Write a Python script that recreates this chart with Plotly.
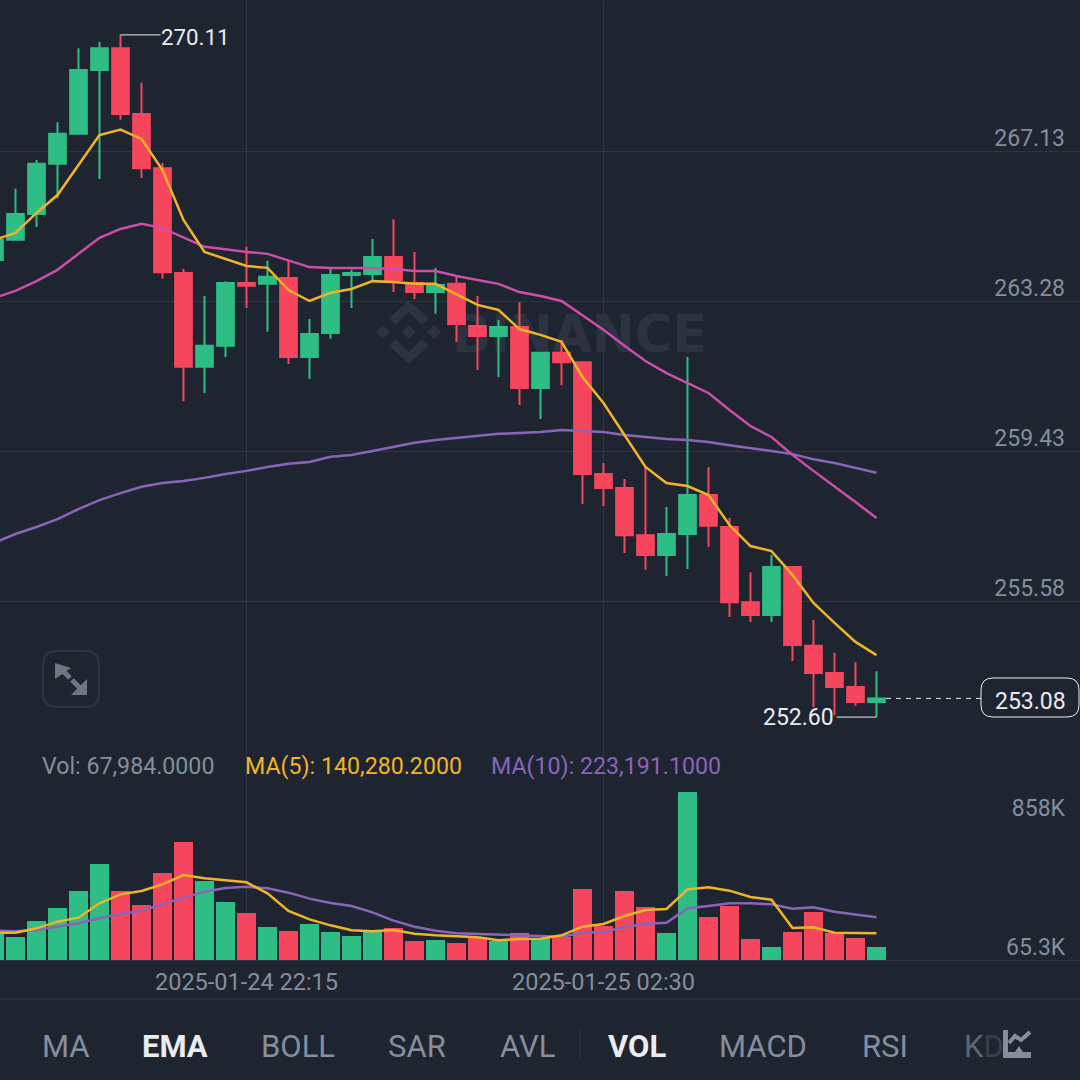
import pandas as pd
import plotly.graph_objs as go

# 15 minute candles
start_time = "2025-01-24 19:15"

opens = [264.33, 264.85, 265.51, 266.80, 267.57, 269.21, 269.77, 268.08, 266.69, 264.00, 261.59,
         262.13, 263.74, 263.72, 263.87, 261.84, 262.46, 263.95, 263.97, 264.41, 263.74, 263.51,
         263.72, 262.64, 262.38, 262.61, 261.05, 261.95, 261.71, 258.84, 258.48, 257.27, 256.76,
         257.30, 258.30, 257.48, 255.55, 255.22, 256.45, 254.43, 253.73, 253.37, 252.99]
closes = [264.85, 265.51, 266.80, 267.57, 269.21, 269.77, 268.08, 266.69, 264.02, 261.59, 262.13,
          263.74, 263.67, 263.90, 261.84, 262.43, 263.95, 264.00, 264.41, 263.82, 263.51, 263.69,
          262.69, 262.38, 262.61, 261.05, 261.95, 261.71, 258.84, 258.48, 257.27, 256.76, 257.30,
          258.30, 257.51, 255.55, 255.22, 256.45, 254.45, 253.73, 253.37, 252.99, 253.08]
highs = [264.97, 266.16, 266.90, 267.87, 269.77, 269.93, 270.11, 268.88, 266.82, 264.10, 263.41,
         263.79, 264.67, 264.31, 264.33, 262.82, 264.10, 264.08, 264.87, 265.38, 264.54, 264.13,
         263.90, 263.41, 262.79, 263.25, 261.97, 262.28, 261.71, 259.12, 258.71, 259.02, 257.99,
         261.84, 259.02, 257.71, 256.32, 256.76, 256.45, 255.09, 254.25, 254.01, 253.78]
lows = [264.28, 264.85, 265.18, 265.92, 267.57, 266.41, 267.93, 266.44, 263.85, 260.71, 260.92,
        261.84, 263.10, 262.49, 261.66, 261.28, 262.31, 263.10, 263.79, 263.51, 263.33, 262.95,
        262.23, 261.51, 261.33, 260.61, 260.25, 261.12, 258.07, 258.02, 256.81, 256.38, 256.22,
        256.40, 256.97, 255.17, 255.04, 255.04, 254.04, 252.86, 252.65, 252.89, 252.60]

ema_short = [264.85, 265.03, 265.54, 266.00, 266.77, 267.54, 267.68, 267.44, 266.64, 265.36, 264.54,
             264.36, 264.18, 264.13, 263.56, 263.28, 263.49, 263.59, 263.79, 263.77, 263.72, 263.72,
             263.46, 263.18, 263.05, 262.56, 262.41, 262.23, 261.33, 260.66, 259.84, 259.02, 258.61,
             258.53, 258.30, 257.53, 256.99, 256.86, 256.25, 255.53, 255.02, 254.53, 254.19]
ema_mid = [263.36, 263.54, 263.79, 264.08, 264.49, 264.90, 265.13, 265.26, 265.15, 264.90, 264.67,
           264.61, 264.54, 264.49, 264.31, 264.15, 264.13, 264.13, 264.13, 264.10, 264.05, 264.05,
           263.92, 263.82, 263.72, 263.51, 263.41, 263.28, 262.92, 262.54, 262.13, 261.74, 261.43,
           261.18, 260.92, 260.48, 260.07, 259.79, 259.33, 258.92, 258.53, 258.12, 257.71]
ema_long = [257.08, 257.30, 257.48, 257.68, 257.94, 258.17, 258.35, 258.51, 258.61, 258.66, 258.74,
            258.84, 258.92, 259.02, 259.10, 259.15, 259.28, 259.33, 259.43, 259.53, 259.64, 259.71,
            259.76, 259.82, 259.87, 259.89, 259.92, 259.97, 259.94, 259.92, 259.84, 259.79, 259.74,
            259.71, 259.66, 259.58, 259.51, 259.43, 259.35, 259.22, 259.12, 258.99, 258.87]

volumes = [141200, 121900, 204000, 270400, 359300, 500500, 362400, 287700, 453400, 615600, 414700,
           303300, 244200, 171000, 150100, 188300, 146400, 124000, 146400, 168900, 99400, 103000,
           90500, 121900, 99400, 142800, 115100, 121900, 369800, 179400, 359300, 278800, 139600,
           878600, 226500, 282400, 111400, 66400, 146400, 249500, 142800, 115100, 67984]
vol_ma5 = [142950, 142950, 165600, 200500, 221400, 296400, 343400, 360900, 395700, 444500, 427100,
           416700, 406200, 348700, 256300, 212700, 181300, 155200, 149900, 156900, 137700, 129000,
           122000, 118500, 102900, 109800, 111600, 129000, 174300, 188300, 230100, 261500, 266700,
           369600, 380000, 362600, 329500, 315500, 167400, 170800, 142950, 142950, 140280]
vol_ma10 = [153400, 149900, 156900, 174300, 191800, 217900, 240600, 258000, 292900, 326000, 357400,
            376600, 383500, 374800, 352100, 320800, 298100, 282400, 249300, 205700, 174300, 153400,
            139500, 136000, 130700, 125500, 122000, 122000, 142950, 146400, 170800, 190000, 195300,
            270200, 282400, 296400, 296400, 291100, 268500, 275400, 252800, 237100, 223191]

price_ticks = [267.13, 263.28, 259.43, 255.58, 251.72]
price_labels = ["267.13", "263.28", "259.43", "255.58", "251.72"]
vol_top_tick = 727000
vol_top_label = "858K"
vol_bottom_label = "65.3K"
time_ticks = ["2025-01-24 22:15", "2025-01-25 02:30"]

high_label = "270.11"
low_label = "252.60"
last_price = 253.08
vol_legend = "Vol: 67,984.0000"
ma5_legend = "MA(5): 140,280.2000"
ma10_legend = "MA(10): 223,191.1000"
# label, centre in px, bold or not
indicators = [("MA", 66, False), ("EMA", 175, True), ("BOLL", 298, False), ("SAR", 417, False),
              ("AVL", 527, False), ("VOL", 637, True), ("MACD", 763, False), ("RSI", 885, False)]

BG = "#1F2530"
GRID = "#2E3440"
GREEN = "#2EBD85"
RED = "#F6465D"
YELLOW = "#F0B429"
PINK = "#CB4FA8"
PURPLE = "#8A64B8"
GRAY = "#848E9C"
WHITE = "#EAECEF"
FONT = "Roboto"
TICK_SIZE = 23
LEGEND_SIZE = 23.2
TAB_SIZE = 31
SIZE = 1080

times = pd.date_range(start_time, periods=len(opens), freq="15min")
bar_colors = [GREEN if c >= o else RED for o, c in zip(opens, closes)]
x_range = ["2025-01-24 19:18:56", "2025-01-25 08:10:22"]


def px_x(x):
    return x / SIZE


def px_y(y):
    return 1 - y / SIZE


def poly(points, close=True):
    # svg path from screen pixels, for the app chrome only
    path = " ".join(("M" if i == 0 else "L") + " {} {}".format(px_x(x), px_y(y)) for i, (x, y) in enumerate(points))
    return path + (" Z" if close else "")


def round_rect(x0, y0, x1, y1, r):
    # rounded box, arcs done with quadratic curves
    X = px_x
    Y = px_y
    return ("M {} {} L {} {} Q {} {} {} {} L {} {} Q {} {} {} {} L {} {} Q {} {} {} {} L {} {} Q {} {} {} {} Z".format(
        X(x0 + r), Y(y0), X(x1 - r), Y(y0), X(x1), Y(y0), X(x1), Y(y0 + r),
        X(x1), Y(y1 - r), X(x1), Y(y1), X(x1 - r), Y(y1),
        X(x0 + r), Y(y1), X(x0), Y(y1), X(x0), Y(y1 - r),
        X(x0), Y(y0 + r), X(x0), Y(y0), X(x0 + r), Y(y0)))


def chrome_shape(path, fill=None, line=None, width=0, layer="above"):
    return dict(type="path", xref="paper", yref="paper", path=path, fillcolor=fill or "rgba(0,0,0,0)",
                line=dict(color=line or "rgba(0,0,0,0)", width=width), layer=layer)


def label(text, x, y, color, size=LEGEND_SIZE, anchor="left", bold=False):
    return dict(xref="paper", yref="paper", x=px_x(x), y=px_y(y), text=text, showarrow=False,
                xanchor=anchor, yanchor="middle",
                font=dict(family=FONT, size=size, color=color, weight=700 if bold else 400))


fig = go.Figure()

# watermark sits on the first subplot so the candles draw over it
fig.add_trace(go.Scatter(x=[0.5], y=[0.5], mode="text", text=["BINANCE"], xaxis="x", yaxis="y", cliponaxis=False,
                         textfont=dict(family="DejaVu Sans", size=51, color="#2C3340", weight=700),
                         hoverinfo="skip"))

fig.add_trace(go.Candlestick(x=times, open=opens, high=highs, low=lows, close=closes, xaxis="x2", yaxis="y2",
                             increasing=dict(line=dict(color=GREEN, width=2), fillcolor=GREEN),
                             decreasing=dict(line=dict(color=RED, width=2), fillcolor=RED),
                             whiskerwidth=0))
for values, color in [(ema_long, PURPLE), (ema_mid, PINK), (ema_short, YELLOW)]:
    fig.add_trace(go.Scatter(x=times, y=values, mode="lines", xaxis="x2", yaxis="y2",
                             line=dict(color=color, width=2.5)))

fig.add_trace(go.Bar(x=times, y=volumes, marker=dict(color=bar_colors, line=dict(width=0)),
                     width=15 * 60 * 1000 * 0.886, xaxis="x3", yaxis="y3"))
for values, color in [(vol_ma10, PURPLE), (vol_ma5, YELLOW)]:
    fig.add_trace(go.Scatter(x=times, y=values, mode="lines", xaxis="x3", yaxis="y3",
                             line=dict(color=color, width=2.5)))

main_domain = [px_y(751), px_y(1)]
vol_domain = [px_y(960), px_y(751)]

fig.update_layout(
    width=SIZE, height=SIZE, autosize=False, margin=dict(l=0, r=0, t=0, b=0),
    paper_bgcolor=BG, plot_bgcolor="rgba(0,0,0,0)", showlegend=False, boxgap=0.205, boxgroupgap=0, bargap=0,
    font=dict(family=FONT, color=GRAY, size=TICK_SIZE),
    # watermark axes, hidden. Text centre is placed so it lands behind the price chart
    xaxis=dict(domain=[px_x(579), px_x(580)], range=[0, 1], visible=False, anchor="y", fixedrange=True),
    yaxis=dict(domain=[px_y(340), px_y(339)], range=[0, 1], visible=False, anchor="x", fixedrange=True),
    xaxis2=dict(domain=[0, 1], range=x_range, type="date", anchor="y2", rangeslider=dict(visible=False),
                tickvals=time_ticks, showticklabels=False, ticks="", showgrid=True, gridcolor=GRID, gridwidth=1,
                zeroline=False),
    yaxis2=dict(domain=main_domain, range=[251.73, 270.98], anchor="x2", side="right",
                tickvals=price_ticks + [270.98], ticktext=price_labels + [""], ticklabelposition="inside top",
                ticklabelstandoff=12, ticklabelshift=3, ticks="", showgrid=True, gridcolor=GRID, gridwidth=1,
                zeroline=False, tickfont=dict(family=FONT, size=TICK_SIZE, color=GRAY)),
    xaxis3=dict(domain=[0, 1], range=x_range, type="date", anchor="y3", tickvals=time_ticks,
                tickformat="%Y-%m-%d %H:%M", ticks="", showgrid=True, gridcolor=GRID, gridwidth=1, zeroline=False,
                showline=True, linecolor=GRID, linewidth=1, ticklabelstandoff=1,
                tickfont=dict(family=FONT, size=23.5, color=GRAY)),
    yaxis3=dict(domain=vol_domain, range=[0, 1093000], anchor="x3", side="right", tickvals=[vol_top_tick],
                ticktext=[vol_top_label], ticklabelposition="inside top", ticklabelstandoff=12, ticklabelshift=3,
                ticks="", showgrid=False, zeroline=False, tickfont=dict(family=FONT, size=TICK_SIZE, color=GRAY)),
)

shapes = []

# binance diamond, behind everything
logo = "#2C3340"
for cx in [383, 408.7, 434]:
    shapes.append(chrome_shape(poly([(cx, 325), (cx + 7, 332), (cx, 339), (cx - 7, 332)]), fill=logo, layer="below"))
shapes.append(chrome_shape(poly([(408.7, 300), (428.5, 318.5), (422, 325), (408.7, 312), (395.5, 325), (389, 318.5)]),
                           fill=logo, layer="below"))
shapes.append(chrome_shape(poly([(408.7, 364), (428.5, 345.5), (422, 339), (408.7, 352), (395.5, 339), (389, 345.5)]),
                           fill=logo, layer="below"))

# last price line and its box
shapes.append(dict(type="line", xref="paper", yref="y2", x0=px_x(886), x1=px_x(981), y0=last_price, y1=last_price,
                   line=dict(color=WHITE, width=1, dash="5px,5px")))
shapes.append(chrome_shape(round_rect(981, 678, 1079, 717, 12), fill=BG, line=WHITE, width=1))

# leaders from the high and the low candle out to their labels
high_time = times[highs.index(max(highs))]
low_time = times[lows.index(min(lows))]
shapes.append(dict(type="line", xref="x2", yref="y2", xsizemode="pixel", xanchor=high_time, x0=0, x1=40,
                   y0=max(highs), y1=max(highs), line=dict(color=WHITE, width=1)))
shapes.append(dict(type="line", xref="x2", yref="y2", xsizemode="pixel", xanchor=low_time, x0=-40, x1=0,
                   y0=min(lows), y1=min(lows), line=dict(color=WHITE, width=1)))

# line above the tab bar
shapes.append(dict(type="line", xref="paper", yref="paper", x0=0, x1=1, y0=px_y(999), y1=px_y(999),
                   line=dict(color=GRID, width=1)))
# tab bar separator
shapes.append(dict(type="line", xref="paper", yref="paper", x0=px_x(580), x1=px_x(580), y0=px_y(1028), y1=px_y(1058),
                   line=dict(color=GRID, width=1)))

# expand button
icon = "#6F7681"
shapes.append(chrome_shape(round_rect(43, 651, 99, 707, 14), line=GRID, width=2))
shapes.append(chrome_shape(poly([(55, 663), (71, 668), (55, 679)]), fill=icon))
shapes.append(chrome_shape(poly([(87, 695), (87, 679), (71, 695)]), fill=icon))
shapes.append(chrome_shape(poly([(62, 670), (70, 678)], close=False), line=icon, width=5))
shapes.append(chrome_shape(poly([(72, 680), (80, 688)], close=False), line=icon, width=5))

# chart icon in the tab bar
shapes.append(chrome_shape(poly([(1003, 1030), (1008, 1030), (1008, 1052), (1031, 1052), (1031, 1058), (1003, 1058)]),
                           fill=GRAY))
shapes.append(chrome_shape(poly([(1009, 1043), (1015, 1036), (1021, 1040), (1030, 1032)], close=False),
                           line=GRAY, width=4))
shapes.append(chrome_shape(poly([(1019, 1046), (1015, 1052), (1023, 1052)]), fill=GRAY))

fig.update_layout(shapes=shapes)

annotations = [
    label(vol_legend, 40, 766, GRAY),
    label(ma5_legend, 243, 766, YELLOW),
    label(ma10_legend, 489, 766, PURPLE),
    label("{:.2f}".format(last_price), 1030, 701, WHITE, size=TICK_SIZE, anchor="center"),
    label("K<span style='color:#3A404B'>D</span>", 962, 1046, "#5E6570", size=TAB_SIZE),
]
for name, cx, active in indicators:
    annotations.append(label(name, cx, 1046, WHITE if active else GRAY, size=TAB_SIZE, anchor="center", bold=active))

# bottom volume label: a tick at zero gets dropped once it is shifted, so it hangs off the baseline instead
annotations.append(dict(xref="paper", yref="y3", x=px_x(1068), y=0, yshift=13, text=vol_bottom_label,
                        showarrow=False, xanchor="right", yanchor="middle",
                        font=dict(family=FONT, size=TICK_SIZE, color=GRAY)))

# callout texts next to the leaders
annotations.append(dict(xref="x2", yref="y2", x=high_time, y=max(highs), text=high_label, showarrow=False,
                        xanchor="left", yanchor="middle", xshift=39, yshift=-2,
                        font=dict(family=FONT, size=22.3, color=WHITE)))
annotations.append(dict(xref="x2", yref="y2", x=low_time, y=min(lows), text=low_label, showarrow=False,
                        xanchor="right", yanchor="middle", xshift=-40, yshift=0,
                        font=dict(family=FONT, size=TICK_SIZE, color=WHITE)))
fig.update_layout(annotations=annotations)

fig.write_html("out.html", config=dict(displayModeBar=False),
               post_script="document.body.style.margin='0';document.body.style.overflow='hidden';")
